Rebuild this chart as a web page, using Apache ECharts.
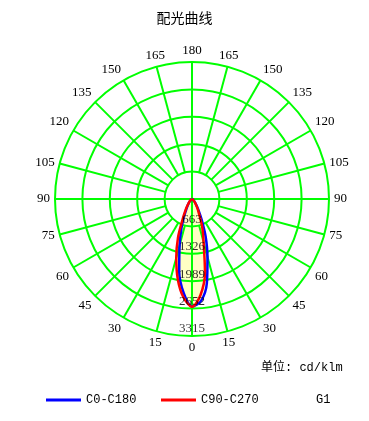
<!DOCTYPE html>
<html>
<head>
<meta charset="utf-8">
<script src="https://cdn.jsdelivr.net/npm/echarts@6/dist/echarts.min.js"></script>
<style>html,body{margin:0;padding:0;background:#fff}#c{width:369px;height:421px}</style>
</head>
<body>
<div id="c"></div>
<script>
// Angles from nadir (degrees)
const gammaAngles = [0,5,10,15,20,25,30,35,40,45,50,55,60,65,70,75,80,85,90];
// Intensities (cd/klm)
const c0Right   = [2600,2480,2070,1447,964,555,313,193,121,80,48,36,24,19,12,7,5,2,0];   // C0 side (right)
const c180Left  = [2600,2290,1784,1157,747,434,265,169,108,72,43,32,22,17,11,7,4,2,0];   // C180 side (left)
const c90Right  = [2610,2339,1808,1085,723,410,265,169,108,72,43,32,22,17,11,7,4,2,0];   // C90 side (right)
const c270Left  = [2610,2387,1977,1471,989,530,313,193,121,80,48,36,24,19,12,7,5,2,0];   // C270 side (left)

const ringValues = [663,1326,1989,2652,3315];
const angleTicks = [0,15,30,45,60,75,90,105,120,135,150,165,180,195,210,225,240,255,270,285,300,315,330,345];
const angleLabels = ['0','15','30','45','60','75','90','105','120','135','150','165','180','165','150','135','120','105','90','75','60','45','30','15'];
const seriesNames = ['C0-C180','C90-C270'];

function curve(rightVals, leftVals){
  const pts = [];
  for (let i = gammaAngles.length - 1; i >= 0; i--) pts.push([rightVals[i], 360 - gammaAngles[i]]);
  for (let i = 1; i < gammaAngles.length; i++) pts.push([leftVals[i], gammaAngles[i]]);
  return pts;
}
const blueData = curve(c0Right, c180Left);
const redData = curve(c90Right, c270Left);

const GREEN = '#00ff00';
const rMax = ringValues[ringValues.length-1];

const chart = echarts.init(document.getElementById('c'), null, {renderer:'canvas'});
chart.setOption({
  animation: false,
  backgroundColor: '#fff',
  title: {
    text: '配光曲线', left: 'center', top: 6,
    textStyle: {fontSize: 14, fontWeight: 'normal', color: '#000', fontFamily: 'Noto Sans CJK SC'}
  },
  legend: [
    {left: 41, top: 389, data: [seriesNames[0]], icon: 'rect', itemWidth: 35, itemHeight: 3, selectedMode: false,
     textStyle: {fontFamily: 'Liberation Mono', fontSize: 12, color: '#000'}},
    {left: 156, top: 389, data: [seriesNames[1]], icon: 'rect', itemWidth: 35, itemHeight: 3, selectedMode: false,
     textStyle: {fontFamily: 'Liberation Mono', fontSize: 12, color: '#000'}}
  ],
  graphic: [
    {type: 'text', left: 261, top: 362, style: {text: '单位: cd/klm', fontFamily: 'Liberation Mono, Noto Sans CJK SC', fontSize: 12, fill: '#000'}},
    {type: 'text', left: 316, top: 394, style: {text: 'G1', fontFamily: 'Liberation Mono', fontSize: 12, fill: '#000'}}
  ],
  polar: {center: [192, 199], radius: 137},
  angleAxis: {
    type: 'value', min: 0, max: 360, interval: 15, startAngle: 270, clockwise: true,
    axisLine: {show: false}, axisTick: {show: false}, splitLine: {show: false},
    axisLabel: {
      margin: 5, color: '#000', fontFamily: 'Liberation Serif', fontSize: 13,
      formatter: v => { const i = angleTicks.indexOf(v); return i >= 0 ? angleLabels[i] : ''; }
    }
  },
  radiusAxis: {
    type: 'value', min: 0, max: rMax, interval: ringValues[0],
    axisLine: {show: false}, axisTick: {show: false}, axisLabel: {show: false}, splitLine: {show: false}
  },
  series: [
    {
      type: 'custom', coordinateSystem: 'polar', z: 1, silent: true, data: [[0, 0]],
      renderItem: (params, api) => {
        const poly = d => ({type: 'polygon', shape: {points: d.map(p => api.coord(p)), smooth: 0.3}, style: {fill: '#ffffc4', stroke: null}});
        return {type: 'group', children: [poly(blueData), poly(redData)]};
      }
    },
    {
      type: 'custom', coordinateSystem: 'polar', z: 2, silent: true, data: [[0, 0]],
      renderItem: (params, api) => {
        const c = api.coord([0, 0]);
        const children = [];
        ringValues.forEach(v => {
          const p = api.coord([v, 0]);
          const r = Math.hypot(p[0]-c[0], p[1]-c[1]);
          children.push({type: 'circle', shape: {cx: c[0], cy: c[1], r: r}, style: {fill: null, stroke: GREEN, lineWidth: 2}});
        });
        angleTicks.forEach(a => {
          const inner = (a % 90 === 0) ? 0 : ringValues[0];
          const p1 = api.coord([inner, a]);
          const p2 = api.coord([rMax, a]);
          children.push({type: 'line', shape: {x1: p1[0], y1: p1[1], x2: p2[0], y2: p2[1]}, style: {stroke: GREEN, lineWidth: 2}});
        });
        return {type: 'group', children: children};
      }
    },
    {
      name: seriesNames[0], type: 'line', coordinateSystem: 'polar', z: 3, data: blueData,
      showSymbol: false, smooth: 0.3, color: '#0000ff', lineStyle: {color: '#0000ff', width: 2.5}
    },
    {
      name: seriesNames[1], type: 'line', coordinateSystem: 'polar', z: 4, data: redData,
      showSymbol: false, smooth: 0.3, color: '#ff0000', lineStyle: {color: '#ff0000', width: 2.5}
    },
    {
      type: 'scatter', coordinateSystem: 'polar', z: 5, silent: true, symbolSize: 1,
      itemStyle: {color: 'transparent'},
      data: ringValues.map(v => [v, 0]),
      label: {show: true, position: 'top', distance: 0, color: '#000', fontFamily: 'Liberation Serif', fontSize: 13,
        formatter: p => String(p.value[0])}
    }
  ]
});
</script>
</body>
</html>
